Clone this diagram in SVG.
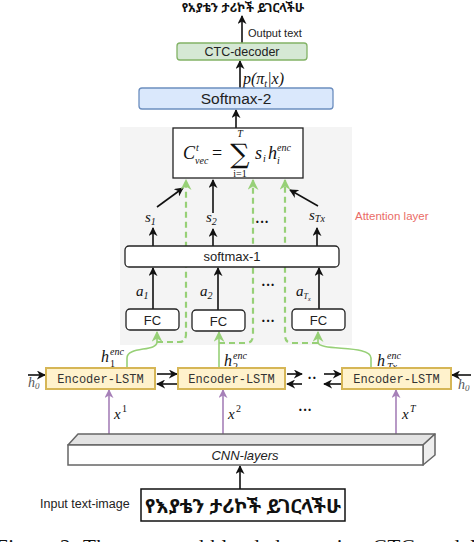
<svg xmlns="http://www.w3.org/2000/svg" width="474" height="542" viewBox="0 0 474 542">
<style>
.sans{font-family:"Liberation Sans",Arial,sans-serif;fill:#222}
.mono{font-family:"Liberation Mono","Courier New",monospace;fill:#333}
.m{font-family:"Liberation Serif","DejaVu Serif",serif;font-style:italic;fill:#111}
.r{font-style:normal}
.box{fill:#fff;stroke:#222;stroke-width:1.3}
.lstm{fill:#fff2cc;stroke:#d6b656;stroke-width:2}
.k{fill:none;stroke:#111;stroke-width:1.6}
.g{fill:none;stroke:#97d077;stroke-width:1.6}
.gd{fill:none;stroke:#97d077;stroke-width:2.2;stroke-dasharray:6 4}
.p{fill:none;stroke:#a680b8;stroke-width:1.6}
.eth{font-family:"Noto Sans Ethiopic","Abyssinica SIL","Noto Serif Ethiopic","DejaVu Sans",sans-serif;fill:#111}
</style>
<defs>
<marker id="ak" viewBox="0 0 10 10" refX="9" refY="5" markerWidth="9" markerHeight="9" orient="auto" markerUnits="userSpaceOnUse"><path d="M0,0 L10,5 L0,10 L3,5 z" fill="#111"/></marker>
<marker id="ag" viewBox="0 0 10 10" refX="9" refY="5" markerWidth="11" markerHeight="11" orient="auto" markerUnits="userSpaceOnUse"><path d="M0,0 L10,5 L0,10 L3,5 z" fill="#97d077"/></marker>
<marker id="ap" viewBox="0 0 10 10" refX="9" refY="5" markerWidth="9" markerHeight="9" orient="auto" markerUnits="userSpaceOnUse"><path d="M0,0 L10,5 L0,10 L3,5 z" fill="#a680b8"/></marker>
</defs>

<g id="attention-bg"><rect x="120" y="127" width="232" height="218" fill="#f4f4f4"/></g>

<g id="connectors">
<path class="k" d="M242,43 V16" marker-end="url(#ak)"/>
<path class="k" d="M240,88 V61" marker-end="url(#ak)"/>
<path class="k" d="M236,128 V110" marker-end="url(#ak)"/>
<path class="k" d="M153,246 V228" marker-end="url(#ak)"/>
<path class="k" d="M157,207 L183,188" marker-end="url(#ak)"/>
<path class="k" d="M213,246 V229" marker-end="url(#ak)"/>
<path class="k" d="M213,213 V180" marker-end="url(#ak)"/>
<path class="k" d="M317,246 V228" marker-end="url(#ak)"/>
<path class="k" d="M318,206 L290,190" marker-end="url(#ak)"/>
<path class="k" d="M153,309 V268" marker-end="url(#ak)"/>
<path class="k" d="M218,310 V268" marker-end="url(#ak)"/>
<path class="k" d="M319,309 V268" marker-end="url(#ak)"/>
<path class="gd" d="M157,342 H179 Q186,342 186,334 V180" marker-end="url(#ag)"/>
<path class="gd" d="M219,343 H246 Q253,343 253,335 V180" marker-end="url(#ag)"/>
<path class="gd" d="M318,343 H292 Q285,343 285,335 V180" marker-end="url(#ag)"/>
<path class="g" d="M127,368 V358 C127,346 157,352 157,342 V332" marker-end="url(#ag)"/>
<path class="g" d="M219,368 V332" marker-end="url(#ag)"/>
<path class="g" d="M371,368 V358 C371,344 318,352 318,342 V332" marker-end="url(#ag)"/>
<path class="k" d="M157,374 H177" marker-end="url(#ak)"/>
<path class="k" d="M177,384 H157" marker-end="url(#ak)"/>
<path class="k" d="M287,374 H302" marker-end="url(#ak)"/>
<path class="k" d="M302,384 H287" marker-end="url(#ak)"/>
<path class="k" d="M324,374 H341" marker-end="url(#ak)"/>
<path class="k" d="M341,384 H324" marker-end="url(#ak)"/>
<path class="k" d="M28,375 H45" marker-end="url(#ak)"/>
<path class="k" d="M471,375 H452" marker-end="url(#ak)"/>
<path class="p" d="M109,434 V390" marker-end="url(#ap)"/>
<path class="p" d="M223,434 V390" marker-end="url(#ap)"/>
<path class="p" d="M396,434 V390" marker-end="url(#ap)"/>
<path class="k" d="M240,489 V466" marker-end="url(#ak)"/>
</g>

<g id="output-text"><text class="eth" x="243" y="12" font-size="12.5" font-weight="bold" text-anchor="middle">የአያቴን ታሪኮች ይገርላችሁ</text></g>
<text class="sans" x="248" y="37" font-size="11" fill="#333">Output text</text>

<g id="ctc-decoder"><rect x="177" y="43" width="130" height="17" rx="3" fill="#d5e8d4" stroke="#82b366" stroke-width="1.3"/><text class="sans" x="242" y="56" font-size="12.5" text-anchor="middle">CTC-decoder</text></g>
<text class="m" x="243" y="84" font-size="16">p(π<tspan font-size="10" dy="3">t</tspan><tspan dy="-3">|x)</tspan></text>

<g id="softmax-2"><rect x="139" y="88" width="194" height="21" rx="3" fill="#dae8fc" stroke="#6c8ebf" stroke-width="1.3"/><text class="sans" x="236" y="104" font-size="15.5" text-anchor="middle">Softmax-2</text></g>

<g id="context-vector"><rect class="box" x="173" y="128" width="130" height="50"/>
<text class="m" x="183" y="159" font-size="18">C</text>
<text class="m" x="196" y="151" font-size="10">t</text>
<text class="m" x="195" y="164" font-size="10">vec</text>
<text class="m r" x="212" y="159" font-size="18">=</text>
<text x="240" y="163" font-family="'DejaVu Serif',serif" font-size="27" fill="#111" text-anchor="middle">∑</text>
<text class="m" x="240" y="137" font-size="10" text-anchor="middle">T</text>
<text class="m r" x="240" y="177" font-size="10" text-anchor="middle">i=1</text>
<text class="m" x="255" y="159" font-size="18">s</text>
<text class="m" x="263" y="162" font-size="10">i</text>
<text class="m" x="268" y="159" font-size="18">h</text>
<text class="m" x="277" y="151" font-size="10">enc</text>
<text class="m" x="277" y="164" font-size="10">i</text>
</g>

<text class="sans" x="355" y="220" font-size="11.5" style="fill:#ea6b66">Attention layer</text>

<g id="s-labels">
<text class="m" x="145" y="222" font-size="15">s<tspan font-size="10" dy="3">1</tspan></text>
<text class="m" x="206" y="222" font-size="15">s<tspan font-size="10" dy="3">2</tspan></text>
<text class="m" x="309" y="220" font-size="15">s<tspan font-size="10" dy="2">Tx</tspan></text>
<text class="m r" x="262" y="227" font-size="14" font-weight="bold" text-anchor="middle">···</text>
</g>

<g id="softmax-1"><rect class="box" x="125" y="246" width="214" height="21" rx="4"/><text class="sans" x="232" y="261" font-size="13" text-anchor="middle">softmax-1</text></g>

<g id="a-labels">
<text class="m" x="136" y="296" font-size="15">a<tspan font-size="10" dy="3">1</tspan></text>
<text class="m" x="200" y="296" font-size="15">a<tspan font-size="10" dy="3">2</tspan></text>
<text class="m" x="296" y="296" font-size="15">a<tspan font-size="8" dy="3">T</tspan><tspan font-size="6" dy="2">x</tspan></text>
<text class="m r" x="268" y="290" font-size="14" font-weight="bold" text-anchor="middle">···</text>
</g>

<g id="fc-1"><rect class="box" x="126" y="309" width="53" height="21" rx="4"/><text class="sans" x="152.5" y="325" font-size="13" text-anchor="middle">FC</text></g>
<g id="fc-2"><rect class="box" x="192" y="310" width="53" height="21" rx="4"/><text class="sans" x="218.5" y="326" font-size="13" text-anchor="middle">FC</text></g>
<g id="fc-tx"><rect class="box" x="292" y="309" width="53" height="21" rx="4"/><text class="sans" x="318.5" y="325" font-size="13" text-anchor="middle">FC</text></g>
<text class="m r" x="268" y="326" font-size="14" font-weight="bold" text-anchor="middle">···</text>

<g id="h-labels">
<text class="m" x="101" y="362" font-size="16">h</text><text class="m" x="110" y="355" font-size="10">enc</text><text class="m r" x="110" y="367" font-size="10">1</text>
<text class="m" x="224" y="366" font-size="16">h</text><text class="m" x="233" y="359" font-size="10">enc</text><text class="m r" x="233" y="370" font-size="10">2</text>
<text class="m" x="377" y="366" font-size="16">h</text><text class="m" x="387" y="359" font-size="10">enc</text><text class="m" x="387" y="370" font-size="10">Tx</text>
</g>

<g id="lstm-1"><rect class="lstm" x="46" y="368" width="109" height="21"/><text class="mono" x="100.5" y="383" font-size="12" text-anchor="middle">Encoder-LSTM</text></g>
<g id="lstm-2"><rect class="lstm" x="178" y="368" width="107" height="21"/><text class="mono" x="231.5" y="383" font-size="12" text-anchor="middle">Encoder-LSTM</text></g>
<g id="lstm-tx"><rect class="lstm" x="342" y="368" width="109" height="21"/><text class="mono" x="396.5" y="383" font-size="12" text-anchor="middle">Encoder-LSTM</text></g>
<text class="m r" x="312" y="383" font-size="14" font-weight="bold" text-anchor="middle">··</text>

<g id="h0-labels">
<text class="m" x="28" y="387" font-size="14" style="fill:#555">h<tspan font-size="9" dy="2">0</tspan></text>
<text class="m" x="458" y="389" font-size="14" style="fill:#555">h<tspan font-size="9" dy="2">0</tspan></text>
</g>

<g id="x-labels">
<text class="m" x="114" y="419" font-size="15">x</text><text class="m r" x="122" y="412" font-size="10">1</text>
<text class="m" x="228" y="419" font-size="15">x</text><text class="m r" x="236" y="412" font-size="10">2</text>
<text class="m" x="402" y="419" font-size="15">x</text><text class="m" x="410" y="412" font-size="10">T</text>
<text class="m r" x="305" y="415" font-size="14" font-weight="bold" text-anchor="middle">···</text>
</g>

<g id="cnn-layers">
<polygon points="68,445 78,434 435,434 423,445" fill="#e3e3e3" stroke="#666" stroke-width="1.5" stroke-linejoin="round"/>
<polygon points="423,445 435,434 435,455 423,465" fill="#eeeeee" stroke="#666" stroke-width="1.5" stroke-linejoin="round"/>
<rect x="68" y="445" width="355" height="20" fill="#fff" stroke="#666" stroke-width="1.5"/>
<text class="sans" x="245" y="460" font-size="13" font-style="italic" text-anchor="middle">CNN-layers</text>
</g>

<text class="sans" x="40" y="508" font-size="12.5">Input text-image</text>
<g id="input-image"><rect x="141" y="489" width="204" height="32" fill="#fff" stroke="#111" stroke-width="1.5"/><text class="eth" x="243" y="513" font-size="19" font-weight="bold" text-anchor="middle" textLength="196" lengthAdjust="spacingAndGlyphs">የእያቴን ታሪኮች ይገርላችሁ</text></g>

<text x="-4" y="554" font-family="'Liberation Serif',serif" font-size="21" fill="#111" textLength="480" lengthAdjust="spacing">Figure 2: The proposed blended attention-CTC model</text>
</svg>
